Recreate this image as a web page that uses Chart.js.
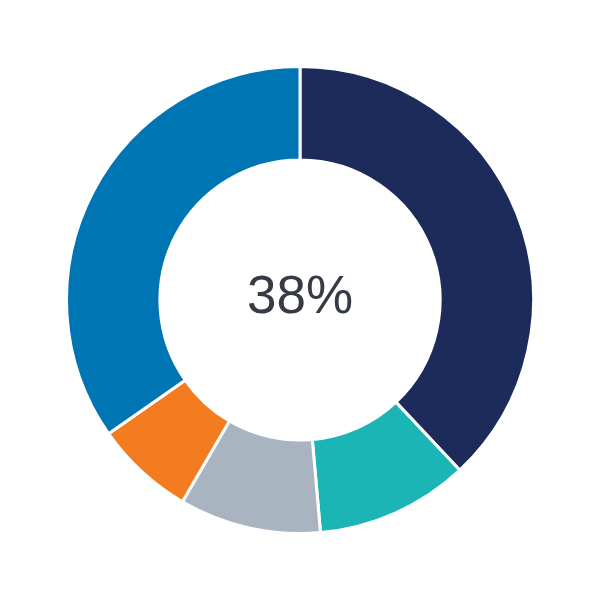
<!DOCTYPE html>
<html>
<head>
<meta charset="utf-8">
<script src="https://cdn.jsdelivr.net/npm/chart.js@4/dist/chart.umd.min.js"></script>
<style>
  html, body { margin: 0; padding: 0; background: #fff; }
  #wrap { width: 600px; height: 600px; position: relative; }
</style>
</head>
<body>
<div id="wrap"><canvas id="myChart"></canvas></div>
<script>
// slices, clockwise from the top
const labels = ['Navy', 'Teal', 'Gray', 'Orange', 'Blue']
const values = [38, 10.6, 9.8, 6.9, 34.7]
const colors = ['#1c2b5a', '#1bb5b6', '#a9b4c1', '#f37c21', '#0075b3']
const centerLabel = '38%'

const centerText = {
    id: 'centerText',
    afterDraw(chart) {
        const ctx = chart.ctx
        const arc = chart.getDatasetMeta(0).data[0]
        ctx.save()
        ctx.font = '53px "Liberation Sans", Arial, sans-serif'
        ctx.fillStyle = '#373b46'
        ctx.textAlign = 'center'
        ctx.textBaseline = 'middle'
        ctx.fillText(centerLabel, arc.x, arc.y - 2)
        ctx.restore()
    }
}

const ctx = document.getElementById('myChart').getContext('2d')
const myChart = new Chart(ctx, {
    type: 'doughnut',
    data: {
        labels: labels,
        datasets: [{
            data: values,
            backgroundColor: colors,
            borderColor: '#ffffff',
            borderWidth: 3
        }]
    },
    options: {
        responsive: true,
        maintainAspectRatio: false,
        animation: false,
        cutout: '60%',
        layout: { padding: 65 },
        plugins: {
            legend: { display: false },
            tooltip: { enabled: false }
        }
    },
    plugins: [centerText]
})
</script>
</body>
</html>
